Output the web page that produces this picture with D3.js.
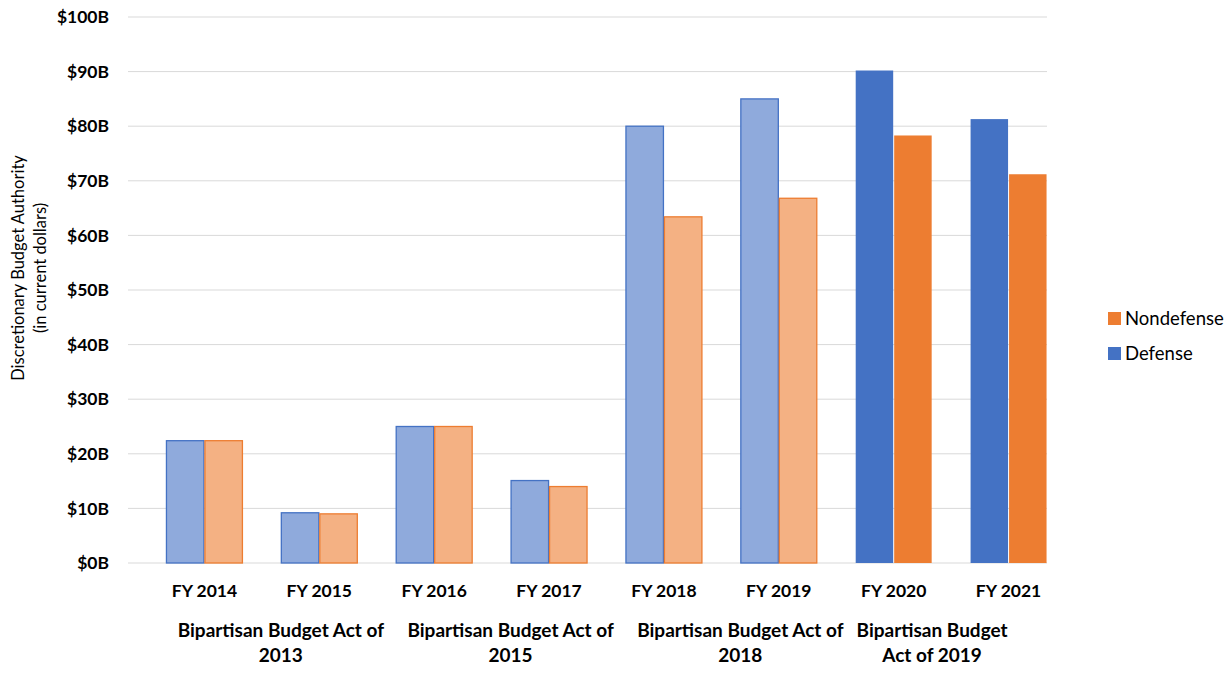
<html>
<head>
<script src="https://d3js.org/d3.v7.min.js"></script>
<style>
  body { margin: 0; background: #fff; }
  text { font-family: Lato, "Noto Sans", sans-serif; fill: #000; }
</style>
</head>
<body>
<svg width="1229" height="681"></svg>
<script>
// data
const years = ['FY 2014', 'FY 2015', 'FY 2016', 'FY 2017', 'FY 2018', 'FY 2019', 'FY 2020', 'FY 2021'];
const defense = [22.4, 9.2, 25.0, 15.1, 80.0, 85.0, 90.2, 81.3];
const nondefense = [22.4, 9.0, 25.0, 14.0, 63.4, 66.8, 78.3, 71.2];
const enacted = [false, false, false, false, false, false, true, true]; // full colour bars
const yTicks = [0, 10, 20, 30, 40, 50, 60, 70, 80, 90, 100];
const groups = [
  { lines: ['Bipartisan Budget Act of', '2013'], at: 'FY 2015' },
  { lines: ['Bipartisan Budget Act of', '2015'], at: 'FY 2017' },
  { lines: ['Bipartisan Budget Act of', '2018'], at: 'FY 2019' },
  { lines: ['Bipartisan Budget', 'Act of 2019'], at: 'FY 2021' }
];
const series = ['Defense', 'Nondefense'];
const legendOrder = ['Nondefense', 'Defense'];

const colors = {
  Defense:    { full: '#4472C4', light: '#8FAADC', stroke: '#4472C4' },
  Nondefense: { full: '#ED7D31', light: '#F4B183', stroke: '#ED7D31' }
};

const svg = d3.select('svg');
const gridLeft = 128, gridRight = 1047;

let x0 = d3.scaleBand().domain(years).range([147, 1066]).paddingInner(0.33).paddingOuter(0.165);
let x1 = d3.scaleBand().domain(series).range([0, x0.bandwidth()]);
let y = d3.scaleLinear().domain([0, 100]).range([563, 17]);

// gridlines
svg.append('g')
  .selectAll('line')
  .data(yTicks)
  .join('line')
  .attr('x1', gridLeft).attr('x2', gridRight)
  .attr('y1', d => y(d)).attr('y2', d => y(d))
  .style('stroke', '#d9d9d9')
  .style('stroke-width', 1);

// y tick labels
svg.append('g')
  .selectAll('text')
  .data(yTicks)
  .join('text')
  .attr('x', 109)
  .attr('y', d => y(d))
  .attr('dy', '0.35em')
  .style('text-anchor', 'end')
  .style('font-weight', 'bold')
  .style('font-size', '17.5px')
  .text(d => '$' + d + 'B');

// bars
const rows = years.map((yr, i) => ({ yr, i, Defense: defense[i], Nondefense: nondefense[i] }));
svg.append('g')
  .selectAll('g')
  .data(rows)
  .join('g')
  .attr('transform', d => `translate(${x0(d.yr)},0)`)
  .selectAll('rect')
  .data(d => series.map(s => ({ s, v: d[s], full: enacted[d.i] })))
  .join('rect')
  .attr('x', d => x1(d.s) + 0.5)
  .attr('y', d => y(d.v))
  .attr('width', x1.bandwidth() - 1)
  .attr('height', d => y(0) - y(d.v))
  .style('fill', d => d.full ? colors[d.s].full : colors[d.s].light)
  .style('stroke', d => d.full ? 'none' : colors[d.s].stroke)
  .style('stroke-width', 1.3);

// category labels
svg.append('g')
  .selectAll('text')
  .data(years)
  .join('text')
  .attr('x', d => x0(d) + x0.bandwidth() / 2)
  .attr('y', 597)
  .style('text-anchor', 'middle')
  .style('font-weight', 'bold')
  .style('font-size', '17.5px')
  .text(d => d);

// group labels (act names)
const gl = svg.append('g')
  .selectAll('text')
  .data(groups)
  .join('text')
  .attr('x', (d, i) => i < 3 ? x0(d.at) : x0(d.at) - 38)
  .attr('y', 637)
  .style('text-anchor', 'middle')
  .style('font-weight', 'bold')
  .style('font-size', '19px');
gl.selectAll('tspan')
  .data(d => d.lines)
  .join('tspan')
  .attr('x', function () { return d3.select(this.parentNode).attr('x'); })
  .attr('dy', (d, i) => i === 0 ? 0 : 25)
  .text(d => d);

// y axis title
svg.append('text')
  .attr('transform', 'translate(24, 268) rotate(-90)')
  .style('text-anchor', 'middle')
  .style('font-size', '16.5px')
  .selectAll('tspan')
  .data(['Discretionary Budget Authority', '(in current dollars)'])
  .join('tspan')
  .attr('x', 0)
  .attr('dy', (d, i) => i === 0 ? 0 : 22)
  .text(d => d);

// legend
const leg = svg.append('g')
  .selectAll('g')
  .data(legendOrder)
  .join('g')
  .attr('transform', (d, i) => `translate(1108, ${312 + i * 35})`);
leg.append('rect')
  .attr('width', 13).attr('height', 13)
  .style('fill', d => colors[d].full);
leg.append('text')
  .attr('x', 17).attr('y', 7)
  .attr('dy', '0.35em')
  .style('font-size', '18.5px')
  .text(d => d);
</script>
</body>
</html>
